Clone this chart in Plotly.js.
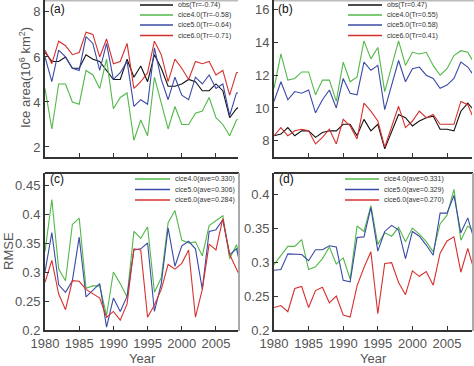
<!DOCTYPE html>
<html><head><meta charset="utf-8">
<script src="https://cdn.plot.ly/plotly-3.0.1.min.js"></script>
<style>html,body{margin:0;padding:0;background:#fff}#chart{width:474px;height:366px}</style>
</head><body><div id="chart"></div>
<script>
const years = [1980,1981,1982,1983,1984,1985,1986,1987,1988,1989,1990,1991,1992,1993,1994,1995,1996,1997,1998,1999,2000,2001,2002,2003,2004,2005,2006,2007,2008,2009];

// Panel (a) ice area
const obsA = [6.2,5.8,5.8,6.0,5.5,5.5,6.1,5.9,5.8,5.4, 5.0,5.0,5.9,5.1,5.6,4.9,6.1,5.5,4.7,4.7, 4.8,5.0,4.9,4.5,4.5,4.8,4.5,3.3,3.7,3.9];
const c4A = [4.6,2.8,4.8,4.8,4.0,3.9,5.4,5.2,4.6,5.9, 3.7,4.2,4.4,2.3,3.2,2.5,5.1,4.0,2.8,3.8, 3.0,3.0,3.5,3.6,4.2,3.3,3.0,2.5,3.2,3.3];
const c5A = [6.0,4.9,6.3,6.0,5.5,5.4,6.9,6.6,5.4,6.6, 5.0,5.3,5.8,3.8,4.1,3.9,6.4,5.0,4.1,5.1, 4.3,4.1,5.1,4.8,5.2,4.6,4.8,3.4,4.4,4.4];
const c6A = [6.3,5.7,6.7,6.5,6.1,6.2,7.1,7.0,6.0,6.8, 5.7,5.8,6.6,4.6,4.9,5.3,6.7,6.1,4.9,5.9, 5.5,5.0,5.8,5.7,5.8,5.2,5.4,4.3,5.3,5.4];
// Panel (b) ice area
const obsB = [8.3,8.4,8.8,8.3,8.6,8.6,8.2,8.5,8.6,8.6, 9.0,9.0,8.3,9.3,8.6,9.0,7.5,8.5,9.6,9.4, 8.9,9.2,9.4,9.5,8.7,8.7,8.6,9.8,10.3,9.8];
const c4B = [11.2,13.3,11.7,11.8,12.2,12.2,10.8,11.7,11.7,10.4, 12.8,11.6,11.9,14.1,13.0,13.7,11.0,12.5,14.1,12.6, 13.4,13.3,13.4,12.6,12.0,12.4,13.2,13.5,13.4,12.7];
const c5B = [10.4,11.6,10.5,11.0,10.9,11.1,9.7,10.5,11.1,10.0, 11.8,10.9,10.8,12.8,12.3,12.6,9.9,11.4,12.9,11.6, 12.4,12.5,12.0,11.8,11.2,11.4,11.8,12.8,12.5,11.9];
const c6B = [8.3,8.8,8.3,8.6,8.7,8.6,7.8,8.2,8.7,7.8, 9.3,8.9,8.1,10.3,9.8,9.2,7.6,8.8,10.1,8.8, 9.2,9.8,9.4,9.6,9.0,9.0,9.0,10.4,10.2,9.2];
// Panel (c) RMSE
const c4C = [0.335,0.425,0.305,0.285,0.382,0.393,0.272,0.276,0.276,0.225, 0.300,0.280,0.257,0.370,0.358,0.378,0.265,0.290,0.385,0.406, 0.355,0.350,0.352,0.328,0.380,0.388,0.397,0.323,0.347,0.300];
const c5C = [0.300,0.368,0.278,0.265,0.285,0.360,0.257,0.268,0.280,0.205, 0.255,0.232,0.258,0.338,0.340,0.350,0.232,0.280,0.376,0.310, 0.345,0.353,0.340,0.270,0.370,0.373,0.390,0.330,0.340,0.290];
const c6C = [0.282,0.320,0.262,0.235,0.285,0.284,0.270,0.263,0.255,0.222, 0.232,0.217,0.245,0.340,0.338,0.222,0.243,0.270,0.313,0.305, 0.315,0.338,0.222,0.270,0.348,0.338,0.392,0.330,0.305,0.280];
// Panel (d) RMSE
const c4D = [0.296,0.310,0.323,0.323,0.333,0.289,0.293,0.305,0.322,0.297, 0.306,0.275,0.353,0.345,0.383,0.326,0.343,0.338,0.351,0.330, 0.350,0.341,0.330,0.315,0.356,0.369,0.407,0.332,0.353,0.345];
const c5D = [0.288,0.289,0.312,0.312,0.311,0.302,0.318,0.318,0.324,0.322, 0.273,0.271,0.336,0.337,0.380,0.316,0.345,0.354,0.347,0.305, 0.345,0.338,0.325,0.310,0.372,0.372,0.398,0.343,0.365,0.330];
const c6D = [0.233,0.236,0.227,0.261,0.264,0.233,0.258,0.263,0.240,0.250, 0.222,0.219,0.265,0.292,0.315,0.224,0.298,0.299,0.270,0.252, 0.287,0.279,0.286,0.266,0.313,0.331,0.337,0.285,0.320,0.285];

const legA = ['obs(Tr=-0.74)','cice4.0(Tr=-0.58)','cice5.0(Tr=-0.64)','cice6.0(Tr=-0.71)'];
const legB = ['obs(Tr=0.47)','cice4.0(Tr=0.55)','cice5.0(Tr=0.58)','cice6.0(Tr=0.41)'];
const legC = ['cice4.0(ave=0.330)','cice5.0(ave=0.306)','cice6.0(ave=0.284)'];
const legD = ['cice4.0(ave=0.331)','cice5.0(ave=0.329)','cice6.0(ave=0.270)'];
const panelLabels = ['(a)','(b)','(c)','(d)'];
const yTickA = [2,4,6,8], yTickB = [8,10,12,14,16];
const yTickC = [0.2,0.25,0.3,0.35,0.4,0.45], yTickD = [0.2,0.25,0.3,0.35,0.4];
const xTicks = [1980,1985,1990,1995,2000,2005];

const W = 474, H = 366;
const COL = {obs:'#111111', c4:'#52b848', c5:'#3a4aa6', c6:'#d6302e'};
const px = x => x / W, py = y => 1 - y / H;

function tr(y, col, xa, ya) {
  return {x: years, y: y, type: 'scatter', mode: 'lines', xaxis: xa, yaxis: ya,
    line: {color: col, width: 1.1}, showlegend: false, hoverinfo: 'skip'};
}
const data = [
  tr(obsA, COL.obs, 'x', 'y'), tr(c4A, COL.c4, 'x', 'y'), tr(c5A, COL.c5, 'x', 'y'), tr(c6A, COL.c6, 'x', 'y'),
  tr(obsB, COL.obs, 'x2', 'y2'), tr(c4B, COL.c4, 'x2', 'y2'), tr(c5B, COL.c5, 'x2', 'y2'), tr(c6B, COL.c6, 'x2', 'y2'),
  tr(c4C, COL.c4, 'x3', 'y3'), tr(c5C, COL.c5, 'x3', 'y3'), tr(c6C, COL.c6, 'x3', 'y3'),
  tr(c4D, COL.c4, 'x4', 'y4'), tr(c5D, COL.c5, 'x4', 'y4'), tr(c6D, COL.c6, 'x4', 'y4')
];

const FONT = 'Liberation Sans, Arial, Helvetica, sans-serif';
function xax(x0, x1, r1, labels, anchor) {
  return {domain: [px(x0), px(x1)], range: [1980, r1], anchor: anchor,
    tickvals: xTicks, ticktext: xTicks.map(String), showticklabels: labels,
    ticks: 'inside', ticklen: 4, tickwidth: 1, tickcolor: '#333',
    showline: true, linecolor: '#333', linewidth: 2, showgrid: false, zeroline: false,
    tickfont: {family: FONT, size: 13, color: '#555'}};
}
function yax(y0, y1, range, tv, anchor) {
  return {domain: [py(y1), py(y0)], range: range, anchor: anchor, tickvals: tv,
    ticktext: tv.map(String),
    ticks: 'inside', ticklen: 4, tickwidth: 1, tickcolor: '#333',
    showline: true, linecolor: '#333', linewidth: 2, showgrid: false, zeroline: false,
    tickfont: {family: FONT, size: 13, color: '#555'}};
}

const annotations = [];
const shapes = [];
function legend(names, cols, x0, x1, ys) {
  names.forEach((n, i) => {
    shapes.push({type: 'line', xref: 'paper', yref: 'paper', x0: px(x0), x1: px(x1), y0: py(ys[i]), y1: py(ys[i]),
      line: {color: cols[i], width: 1.6}});
    annotations.push({xref: 'paper', yref: 'paper', x: px(x1 + 3), y: py(ys[i]), xanchor: 'left', yanchor: 'middle',
      text: n, showarrow: false, font: {family: FONT, size: 7, color: '#333'}});
  });
}
legend(legA, [COL.obs, COL.c4, COL.c5, COL.c6], 140, 173, [5, 15, 25, 35.5]);
legend(legB, [COL.obs, COL.c4, COL.c5, COL.c6], 348, 382, [5, 15, 25, 35.5]);
legend(legC, [COL.c4, COL.c5, COL.c6], 135, 170, [179, 189.5, 200]);
legend(legD, [COL.c4, COL.c5, COL.c6], 345, 379, [179, 189.5, 200]);

[[48, 9], [276, 9], [48, 179], [277, 179]].forEach((p, i) => {
  annotations.push({xref: 'paper', yref: 'paper', x: px(p[0]), y: py(p[1]), xanchor: 'left', yanchor: 'middle',
    text: panelLabels[i], showarrow: false, font: {family: FONT, size: 12, color: '#111'}});
});
annotations.push({xref: 'paper', yref: 'paper', x: px(25), y: py(78), xanchor: 'center', yanchor: 'middle', textangle: -90,
  text: 'Ice area(10<sup>6</sup> km<sup>2</sup>)', showarrow: false, font: {family: FONT, size: 13, color: '#555'}});
annotations.push({xref: 'paper', yref: 'paper', x: px(8), y: py(251), xanchor: 'center', yanchor: 'middle', textangle: -90,
  text: 'RMSE', showarrow: false, font: {family: FONT, size: 13, color: '#555'}});
annotations.push({xref: 'paper', yref: 'paper', x: px(142), y: py(358), xanchor: 'center', yanchor: 'middle',
  text: 'Year', showarrow: false, font: {family: FONT, size: 13, color: '#555'}});
annotations.push({xref: 'paper', yref: 'paper', x: px(373), y: py(358), xanchor: 'center', yanchor: 'middle',
  text: 'Year', showarrow: false, font: {family: FONT, size: 13, color: '#555'}});

// top / right frame edges
shapes.push({type: 'line', xref: 'paper', yref: 'paper', x0: px(45), x1: px(238), y0: py(0.5), y1: py(0.5), line: {color: '#bbb', width: 2}});
shapes.push({type: 'line', xref: 'paper', yref: 'paper', x0: px(274), x1: px(474), y0: py(0.5), y1: py(0.5), line: {color: '#bbb', width: 2}});
shapes.push({type: 'line', xref: 'paper', yref: 'paper', x0: px(45), x1: px(239), y0: py(173), y1: py(173), line: {color: '#333', width: 2}});
shapes.push({type: 'line', xref: 'paper', yref: 'paper', x0: px(274), x1: px(473), y0: py(173), y1: py(173), line: {color: '#333', width: 2}});
shapes.push({type: 'line', xref: 'paper', yref: 'paper', x0: px(239), x1: px(239), y0: py(173), y1: py(331), line: {color: '#aaa', width: 2}});
shapes.push({type: 'line', xref: 'paper', yref: 'paper', x0: px(473), x1: px(473), y0: py(173), y1: py(331), line: {color: '#aaa', width: 2}});

const layout = {
  width: W, height: H, margin: {l: 0, r: 0, t: 0, b: 0},
  paper_bgcolor: '#fff', plot_bgcolor: '#fff', showlegend: false,
  font: {family: FONT},
  xaxis: xax(45, 238, 2008.22, false, 'y'),
  yaxis: yax(0, 157, [1.555, 8.53], yTickA, 'x'),
  xaxis2: xax(274, 472, 2008.61, false, 'y2'),
  yaxis2: yax(0, 157, [7.0, 16.6], yTickB, 'x2'),
  xaxis3: xax(45, 238, 2008.22, true, 'y3'),
  yaxis3: yax(173, 330, [0.2, 0.4707], yTickC, 'x3'),
  xaxis4: xax(274, 472, 2008.61, true, 'y4'),
  yaxis4: yax(173, 330, [0.2, 0.431], yTickD, 'x4'),
  annotations: annotations, shapes: shapes
};
Plotly.newPlot('chart', data, layout, {staticPlot: true, displayModeBar: false});
</script></body></html>
